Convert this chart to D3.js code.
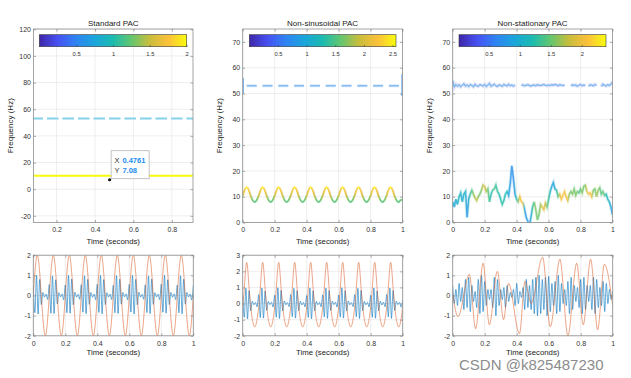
<!DOCTYPE html>
<html><head><meta charset="utf-8">
<script src="https://cdn.jsdelivr.net/npm/d3@7"></script>
<style>body{margin:0;background:#fff} svg{display:block} text{font-family:"Liberation Sans",Arial,sans-serif}</style>
</head><body><svg id="c" width="631" height="378"></svg>
<script>
// ================= DATA =================
const titles=["Standard PAC","Non-sinusoidal PAC","Non-stationary PAC"];
const freqLabel="Frequency (Hz)", timeLabel="Time (seconds)";
const topXTicks=[[0.2,0.4,0.6,0.8],[0,0.2,0.4,0.6,0.8,1],[0,0.2,0.4,0.6,0.8,1]];
const topYTicks=[[-20,0,20,40,60,80,100,120],[0,10,20,30,40,50,60,70],[0,10,20,30,40,50,60,70]];
const botXTicks=[0,0.2,0.4,0.6,0.8,1];
const botYTicks=[[-2,-1,0,1,2],[-2,-1,0,1,2,3],[-2,-1,0,1,2]];
const cbTicks=[[0.5,1,1.5,2],[0.5,1,1.5,2,2.5],[0.5,1,1.5,2]];
const cbDomains=[[0,2],[0,2.56],[0.02,2.39]];
const topXDomains=[[0.08,0.91],[0,1],[0,1]];
const topYDomains=[[-25,120.2],[0,75],[0,75]];
const botYDomains=[[-2,2],[-2,3],[-2,2]];

// Standard PAC (top)
const stdT=[0.08,0.91];
const stdLowF=[10,10];
const stdHighF=[53,53];
const tipX=0.4761, tipY=7.08;
const tipLabels=["X","Y"], tipValues=["0.4761","7.08"];

// Non-sinusoidal PAC (top), step 0.0125
const nsLowF=[10.3,12.6,13.7,12.6,10.3,8.6,7.9,8.6, 10.3,12.6,13.7,12.6,10.3,8.6,7.9,8.6, 10.3,12.6,13.7,12.6,10.3,8.6,7.9,8.6,
 10.3,12.6,13.7,12.6,10.3,8.6,7.9,8.6, 10.3,12.6,13.7,12.6,10.3,8.6,7.9,8.6, 10.3,12.6,13.7,12.6,10.3,8.6,7.9,8.6,
 10.3,12.6,13.7,12.6,10.3,8.6,7.9,8.6, 10.3,12.6,13.7,12.6,10.3,8.6,7.9,8.6, 10.3,12.6,13.7,12.6,10.3,8.6,7.9,8.6,
 10.3,12.6,13.7,12.6,10.3,8.6,7.9,8.6, 8.8];
const nsLowAmp=[1.9,2.25,2.5,2.25,1.9,1.6,1.5,1.6, 1.9,2.25,2.5,2.25,1.9,1.6,1.5,1.6, 1.9,2.25,2.5,2.25,1.9,1.6,1.5,1.6,
 1.9,2.25,2.5,2.25,1.9,1.6,1.5,1.6, 1.9,2.25,2.5,2.25,1.9,1.6,1.5,1.6, 1.9,2.25,2.5,2.25,1.9,1.6,1.5,1.6,
 1.9,2.25,2.5,2.25,1.9,1.6,1.5,1.6, 1.9,2.25,2.5,2.25,1.9,1.6,1.5,1.6, 1.9,2.25,2.5,2.25,1.9,1.6,1.5,1.6,
 1.9,2.25,2.5,2.25,1.9,1.6,1.5,1.6, 1.5];
const nsHighT=[0,1];
const nsHighF=[53,53];
const nsEdges=[{t:0.004,lo:50,hi:56},{t:0.996,lo:49,hi:57.5}];

// Non-stationary PAC (top), step 0.01
const nstLowF=[8,6,9,7,10,11.5,8,11,12,2, 9,11,12.5,11,9.5,8.5,10,11,12.5,14.5, 14,12,13,8,11,12.5,13,14.5,12,11,
 9,7,8.5,11,12,10.5,15,22,17,11, 9,8,10,8,7.5,5,2,0.5,-1,2, 6,8,5,1,3,7,6,5,7.5,6,
 9,12,14,15.5,13,12.5,10,11,9,10.5, 12,10,8.5,11,12,11,13,10.5,12,11.5, 13,11.5,14,14.5,12,11,11.5,10,12.5,13,
 10,12.5,13.5,11,12,10.5,11,9,8,6, 3];
const nstLowAmp=[0.9,0.9,1.0,1.0,1.1,1.1,1.0,1.0,1.1,0.7, 1.0,1.3,1.4,1.6,1.7,1.8,1.6,1.5,1.6,1.8, 1.9,1.7,1.5,1.3,1.2,1.3,1.4,1.3,1.3,1.2,
 1.2,1.3,1.2,1.2,1.1,0.9,0.8,0.7,0.7,0.9, 1.2,1.6,2.0,2.1,1.8,0.9,0.8,0.8,0.8,0.9, 1.3,1.5,1.6,1.5,1.5,1.7,1.9,2.0,1.8,1.5,
 1.3,1.1,0.9,0.85,1.0,1.2,1.5,1.9,2.1,2.1, 2.0,2.1,1.9,1.6,1.5,1.6,1.5,1.6,1.5,1.4, 1.5,1.6,1.5,1.6,1.9,2.0,2.1,2.0,1.5,1.5,
 1.7,1.6,1.5,1.4,1.5,1.4,1.2,1.1,1.0,0.9, 0.8];
const nstHighF=[55,52.5,53.5,52.8,53.4,52.6,53.2,53.8,52.9,53.3, 52.7,53.5,53.1,52.6,53.6,53.0,52.8,53.4,53.2,52.9,
 53.5,52.7,53.3,53.9,52.8,53.2,53.6,53.0,52.7,53.4, 53.1,52.8,53.5,53.2,52.9,53.6,53.0,53.3,52.8,53.4,
 null,null,null,53.1,53.3,53.0,53.2,53.4,53.1,52.9, 53.2,53.3,53.0,53.4,53.2,53.1,53.3,53.5,53.2,53.0,
 53.3,53.1,53.4,53.2,53.5,53.3,53.0,53.4,53.2,53.1, 53.3,null,null,null,52.9,53.4,53.1,53.3,52.8,53.2,
 53.5,53.0,53.3,53.1,null,52.8,53.4,53.2,53.0,53.5, 53.1,null,null,52.7,53.6,53.2,52.9,53.4,53.1,53.6, 54.5];

// Bottom signals
const stdPhase=[0,2,0,-2, 0,2,0,-2, 0,2,0,-2, 0,2,0,-2, 0,2,0,-2, 0,2,0,-2, 0,2,0,-2, 0,2,0,-2, 0,2,0,-2, 0,2,0,-2, 0]; // step 0.025
const stdAmp=[0.5,-0.85,1.0,-0.92,0.8,-0.45,0.15,-0.08,0.07,-0.2, 0.55,-0.88,0.97,-0.9,0.78,-0.42,0.14,-0.07,0.08,-0.22,
 0.52,-0.86,1.0,-0.88,0.82,-0.46,0.16,-0.08,0.06,-0.19, 0.54,-0.83,0.98,-0.9,0.8,-0.44,0.15,-0.09,0.07,-0.21,
 0.56,-0.84,1.0,-0.91,0.79,-0.45,0.14,-0.08,0.07,-0.2, 0.51,-0.86,0.99,-0.89,0.81,-0.43,0.15,-0.07,0.08,-0.22,
 0.55,-0.82,1.0,-0.92,0.8,-0.46,0.16,-0.08,0.06,-0.19, 0.53,-0.85,0.97,-0.9,0.82,-0.44,0.14,-0.08,0.07,-0.21,
 0.56,-0.83,1.0,-0.88,0.78,-0.45,0.15,-0.09,0.08,-0.2, 0.52,-0.86,0.98,-0.91,0.81,-0.43,0.15,-0.07,0.07,-0.22, 0.5]; // step 0.01
const nsPhase=[-0.2,1.3,2.55,1.3,-0.2,-1.1,-1.45,-1.1, -0.2,1.3,2.55,1.3,-0.2,-1.1,-1.45,-1.1, -0.2,1.3,2.55,1.3,-0.2,-1.1,-1.45,-1.1,
 -0.2,1.3,2.55,1.3,-0.2,-1.1,-1.45,-1.1, -0.2,1.3,2.55,1.3,-0.2,-1.1,-1.45,-1.1, -0.2,1.3,2.55,1.3,-0.2,-1.1,-1.45,-1.1,
 -0.2,1.3,2.55,1.3,-0.2,-1.1,-1.45,-1.1, -0.2,1.3,2.55,1.3,-0.2,-1.1,-1.45,-1.1, -0.2,1.3,2.55,1.3,-0.2,-1.1,-1.45,-1.1,
 -0.2,1.3,2.55,1.3,-0.2,-1.1,-1.45,-1.1, -0.2]; // step 0.0125
const nsAmp=[0.5,-0.85,0.95,-0.95,0.8,-0.45,0.15,-0.08,0.07,-0.2, 0.55,-0.87,0.97,-0.9,0.78,-0.42,0.14,-0.07,0.08,-0.22,
 0.52,-0.84,0.98,-0.93,0.82,-0.46,0.16,-0.08,0.06,-0.19, 0.56,-0.82,0.95,-0.9,0.8,-0.44,0.15,-0.09,0.07,-0.21,
 0.5,-0.86,0.97,-0.94,0.79,-0.45,0.14,-0.08,0.07,-0.2, 0.54,-0.83,0.96,-0.92,0.81,-0.43,0.15,-0.07,0.08,-0.22,
 0.53,-0.84,0.98,-0.9,0.8,-0.46,0.16,-0.08,0.06,-0.19, 0.55,-0.82,0.95,-0.93,0.82,-0.44,0.14,-0.08,0.07,-0.21,
 0.51,-0.85,0.97,-0.91,0.78,-0.45,0.15,-0.09,0.08,-0.2, 0.56,-0.83,0.96,-0.92,0.81,-0.43,0.15,-0.07,0.07,-0.22, 0.2];
const nstPhaseT=[0,0.033,0.104,0.143,0.19,0.229,0.279,0.318,0.349,0.417,0.452,0.49,0.562,0.61,0.67,0.72,0.775,0.816,0.862,0.906,0.948,1.0];
const nstPhaseV=[0.1,-1.05,1.05,-1.65,1.6,-1.45,1.2,-1.2,0.6,-1.9,0.7,-0.4,1.9,-1.55,1.8,-2.0,1.6,-1.45,1.8,-1.7,1.55,-0.5];
const nstAmp=[0.5,-0.4,0.3,-0.5,0.6,-0.3,0.4,-0.7,0.8,-0.6, 0.9,-0.8,0.5,-0.3,0.2,-0.6,0.8,-0.9,1.0,-0.8,
 0.7,-0.5,0.3,-0.2,0.3,-0.6,0.9,-1.0,0.8,-0.5, 0.3,-0.2,0.4,-0.6,0.5,-0.3,0.15,-0.1,0.3,-0.5,
 0.6,-0.4,0.2,-0.1,0.4,-0.7,0.8,-0.6,0.5,-0.7, 0.8,-0.9,0.9,-1.0,1.0,-0.9,0.8,-0.7,0.9,-1.0,
 0.95,-0.8,0.6,-0.5,0.7,-0.9,1.0,-0.8,0.6,-0.4, 0.3,-0.5,0.7,-0.9,0.9,-0.7,0.5,-0.3,0.4,-0.6,
 0.8,-0.9,0.9,-0.7,0.5,-0.3,0.5,-0.7,0.9,-0.9, 0.8,-0.6,0.4,-0.5,0.7,-0.8,0.6,-0.4,0.3,-0.2, 0.2];
const watermark="CSDN @k825487230";

// ================= LAYOUT / STYLE =================
const topBox=[{l:33.5,r:193},{l:242.7,r:402.5},{l:452.7,r:612.5}];
const topT=29, topB=222.5;
const botBox=[{l:33.3,r:193.3},{l:242.7,r:402.7},{l:452.7,r:612.7}];
const botT=255.2, botB=335.8;
const cbBox=[{l:39.3,r:186.7},{l:249.3,r:396},{l:459,r:606}];
const cbT=34.7, cbB=46.7;
const parulaStops=["#3e26a8","#4751f2","#2f84f2","#1aa5dc","#1bbbb0","#64c66e","#c9bd3c","#fcc03b","#f9fb0e"];
const parula=d3.scaleLinear().domain(d3.range(parulaStops.length).map(i=>i/(parulaStops.length-1))).range(parulaStops).clamp(true);
const BLUE="#0072BD", ORANGE="#D95319";

const svg=d3.select("#c");
const defs=svg.append("defs");
let clipId=0;
function clip(l,r,t,b){const id="clip"+(clipId++);defs.append("clipPath").attr("id",id).append("rect").attr("x",l).attr("y",t).attr("width",r-l).attr("height",b-t);return "url(#"+id+")";}
let gradId=0;
function gradient(x,ts,amps,cs){
  const id="g"+(gradId++);
  const x1=x(ts[0]), x2=x(ts[ts.length-1]);
  const g=defs.append("linearGradient").attr("id",id).attr("gradientUnits","userSpaceOnUse").attr("x1",x1).attr("x2",x2).attr("y1",0).attr("y2",0);
  ts.forEach((t,i)=>g.append("stop").attr("offset",(x(t)-x1)/(x2-x1)).attr("stop-color",parula(cs(amps[i]))));
  return "url(#"+id+")";
}

function grid(g,x,y,xt,yt,l,r,t,b){
  g.append("g").selectAll("line").data(xt).join("line").attr("x1",d=>x(d)).attr("x2",d=>x(d)).attr("y1",t).attr("y2",b).attr("stroke","#e6e6e6").attr("stroke-width",0.7);
  g.append("g").selectAll("line").data(yt).join("line").attr("y1",d=>y(d)).attr("y2",d=>y(d)).attr("x1",l).attr("x2",r).attr("stroke","#e6e6e6").attr("stroke-width",0.7);
}
function axes(g,x,y,xt,yt,l,r,t,b){
  g.append("rect").attr("x",l).attr("y",t).attr("width",r-l).attr("height",b-t).attr("fill","none").attr("stroke","#8f8f8f").attr("stroke-width",0.8);
  g.append("g").attr("transform",`translate(0,${b})`).call(d3.axisBottom(x).tickValues(xt).tickSize(-2.5).tickSizeOuter(0).tickPadding(5).tickFormat(d=>String(d)));
  g.append("g").attr("transform",`translate(${l},0)`).call(d3.axisLeft(y).tickValues(yt).tickSize(-2.5).tickSizeOuter(0).tickPadding(2.5).tickFormat(d=>String(d)));
  g.append("g").attr("transform",`translate(0,${t})`).call(d3.axisTop(x).tickValues(xt).tickSize(-2.5).tickSizeOuter(0).tickFormat(""));
  g.append("g").attr("transform",`translate(${r},0)`).call(d3.axisRight(y).tickValues(yt).tickSize(-2.5).tickSizeOuter(0).tickFormat(""));
  g.selectAll(".domain").remove();
  g.selectAll(".tick line").attr("stroke","#777").attr("stroke-width",0.6);
  g.selectAll(".tick text").attr("font-size",7).attr("fill","#333").attr("font-family","'Liberation Sans',Arial,sans-serif");
}
function colorbar(g,i){
  const cb=cbBox[i]; const s=d3.scaleLinear().domain(cbDomains[i]).range([cb.l,cb.r]);
  const id="cb"+i; const lg=defs.append("linearGradient").attr("id",id);
  d3.range(0,1.0001,0.02).forEach(f=>lg.append("stop").attr("offset",f).attr("stop-color",parula(f)));
  g.append("rect").attr("x",cb.l).attr("y",cbT).attr("width",cb.r-cb.l).attr("height",cbB-cbT).attr("fill",`url(#${id})`).attr("stroke","#3a3a3a").attr("stroke-width",0.6);
  const a=g.append("g").attr("transform",`translate(0,${cbB})`).call(d3.axisBottom(s).tickValues(cbTicks[i]).tickSize(-1.8).tickSizeOuter(0).tickPadding(5).tickFormat(d=>String(d)));
  a.select(".domain").remove();
  a.selectAll(".tick line").attr("stroke","#333").attr("stroke-width",0.5);
  a.selectAll(".tick text").attr("font-size",5.8).attr("fill","#333").attr("font-family","'Liberation Sans',Arial,sans-serif");
}

const step01=d3.range(101).map(i=>i/100);
const step0125=d3.range(81).map(i=>i*0.0125);
const step025=d3.range(41).map(i=>i*0.025);

for(let i=0;i<3;i++){
  // ---------- TOP ----------
  const tb=topBox[i];
  const x=d3.scaleLinear().domain(topXDomains[i]).range([tb.l,tb.r]);
  const y=d3.scaleLinear().domain(topYDomains[i]).range([topB,topT]);
  const g=svg.append("g");
  grid(g,x,y,topXTicks[i],topYTicks[i],tb.l,tb.r,topT,topB);
  const dg=g.append("g").attr("clip-path",clip(tb.l,tb.r,topT,topB));
  const lineL=d3.line().x(d=>x(d[0])).y(d=>y(d[1]));
  if(i===0){
    dg.append("path").attr("d",lineL(stdT.map((t,k)=>[t,stdHighF[k]]))).attr("fill","none").attr("stroke","#d6eef8").attr("stroke-width",3).attr("stroke-dasharray","11.5,4").attr("stroke-dashoffset",2);
    dg.append("path").attr("d",lineL(stdT.map((t,k)=>[t,stdHighF[k]]))).attr("fill","none").attr("stroke","#84d3ea").attr("stroke-width",1.5).attr("stroke-dasharray","11.5,4").attr("stroke-dashoffset",2);
    dg.append("path").attr("d",lineL(stdT.map((t,k)=>[t,stdLowF[k]]))).attr("fill","none").attr("stroke",parula(1)).attr("stroke-width",2);
  } else if(i===1){
    dg.append("path").attr("d",lineL(nsHighT.map((t,k)=>[t,nsHighF[k]]))).attr("fill","none").attr("stroke","#d6e7fa").attr("stroke-width",2.8).attr("stroke-dasharray","10,5.8").attr("stroke-dashoffset",-4);
    dg.append("path").attr("d",lineL(nsHighT.map((t,k)=>[t,nsHighF[k]]))).attr("fill","none").attr("stroke","#86bdf3").attr("stroke-width",1.3).attr("stroke-dasharray","10,5.8").attr("stroke-dashoffset",-4);
    dg.selectAll(".edge").data(nsEdges).join("line").attr("x1",d=>x(d.t)).attr("x2",d=>x(d.t)).attr("y1",d=>y(d.lo)).attr("y2",d=>y(d.hi)).attr("stroke","#7ab2f2").attr("stroke-width",1.2);
    const gr=gradient(x,step0125,nsLowAmp,d3.scaleLinear().domain(cbDomains[1]).range([0,1]));
    dg.append("path").attr("d",lineL.curve(d3.curveNatural)(step0125.map((t,k)=>[t,nsLowF[k]]))).attr("fill","none").attr("stroke",gr).attr("stroke-width",2).attr("stroke-opacity",0.85);
  } else {
    const hi=step01.map((t,k)=>[t,nstHighF[k]]);
    const lh=d3.line().defined(d=>d[1]!==null).x(d=>x(d[0])).y(d=>y(d[1]));
    dg.append("path").attr("d",lh(hi)).attr("fill","none").attr("stroke","#e4e4f8").attr("stroke-width",3.5);
    dg.append("path").attr("d",lh(hi)).attr("fill","none").attr("stroke","#b4d3f6").attr("stroke-width",1.6);
    dg.append("path").attr("d",lh(hi)).attr("fill","none").attr("stroke","#4fa2ee").attr("stroke-width",0.7);
    const gr=gradient(x,step01,nstLowAmp,d3.scaleLinear().domain(cbDomains[2]).range([0,1]));
    const lp=step01.map((t,k)=>[t,nstLowF[k]]);
    dg.append("path").attr("d",lineL(lp)).attr("fill","none").attr("stroke",gr).attr("stroke-width",3.2).attr("stroke-opacity",0.2);
    dg.append("path").attr("d",lineL(lp)).attr("fill","none").attr("stroke",gr).attr("stroke-width",1.6).attr("stroke-opacity",0.78);
  }
  axes(g,x,y,topXTicks[i],topYTicks[i],tb.l,tb.r,topT,topB);
  colorbar(g,i);
  g.append("text").attr("x",(tb.l+tb.r)/2).attr("y",25.5).attr("text-anchor","middle").attr("font-size",8).attr("fill","#222").text(titles[i]);
  g.append("text").attr("transform",`translate(${tb.l-21},${(topT+topB)/2}) rotate(-90)`).attr("text-anchor","middle").attr("font-size",8).attr("fill","#222").text(freqLabel);
  g.append("text").attr("x",(tb.l+tb.r)/2).attr("y",243.5).attr("text-anchor","middle").attr("font-size",7.8).attr("fill","#222").text(timeLabel);
  if(i===0){
    const px=x(tipX), py=y(tipY);
    g.append("circle").attr("cx",px).attr("cy",py).attr("r",1.6).attr("fill","#111");
    const bx=px+1.5, by=py-29;
    g.append("rect").attr("x",bx).attr("y",by).attr("width",38).attr("height",28).attr("fill","#fff").attr("stroke","#a9a9a9").attr("stroke-width",0.7);
    tipLabels.forEach((lab,k)=>{
      const tx=g.append("text").attr("x",bx+3.3).attr("y",by+11.8+k*10.5).attr("font-size",7.5).attr("fill","#333");
      tx.append("tspan").text(lab+" ");
      tx.append("tspan").attr("x",bx+11.3).attr("fill","#1a8cf0").attr("font-weight","bold").text(tipValues[k]);
    });
  }

  // ---------- BOTTOM ----------
  const bb=botBox[i];
  const xb=d3.scaleLinear().domain([0,1]).range([bb.l,bb.r]);
  const yb=d3.scaleLinear().domain(botYDomains[i]).range([botB,botT]);
  const h=svg.append("g");
  grid(h,xb,yb,botXTicks,botYTicks[i],bb.l,bb.r,botT,botB);
  const bg=h.append("g").attr("clip-path",clip(bb.l,bb.r,botT,botB));
  const ln=d3.line().x(d=>xb(d[0])).y(d=>yb(d[1]));
  let amp, ph;
  if(i===0){ amp=stdAmp; ph=ln.curve(d3.curveNatural)(step025.map((t,k)=>[t,stdPhase[k]])); }
  else if(i===1){ amp=nsAmp; ph=ln.curve(d3.curveNatural)(step0125.map((t,k)=>[t,nsPhase[k]])); }
  else { amp=nstAmp; ph=ln.curve(d3.curveMonotoneX)(nstPhaseT.map((t,k)=>[t,nstPhaseV[k]])); }
  const lb=d3.line().x(d=>xb(d[0])).y(d=>yb(d[1])).curve(d3.curveMonotoneX);
  bg.append("path").attr("d",lb(step01.map((t,k)=>[t,amp[k]]))).attr("fill","none").attr("stroke",BLUE).attr("stroke-width",0.7).attr("stroke-opacity",0.85);
  bg.append("path").attr("d",ph).attr("fill","none").attr("stroke",ORANGE).attr("stroke-width",0.8).attr("stroke-opacity",0.65);
  axes(h,xb,yb,botXTicks,botYTicks[i],bb.l,bb.r,botT,botB);
  h.append("text").attr("x",(bb.l+bb.r)/2).attr("y",354.5).attr("text-anchor","middle").attr("font-size",7.8).attr("fill","#222").text(timeLabel);
}
svg.append("text").attr("x",459).attr("y",370).attr("font-size",15).attr("fill","#8c8c8c").text(watermark);
</script></body></html>
